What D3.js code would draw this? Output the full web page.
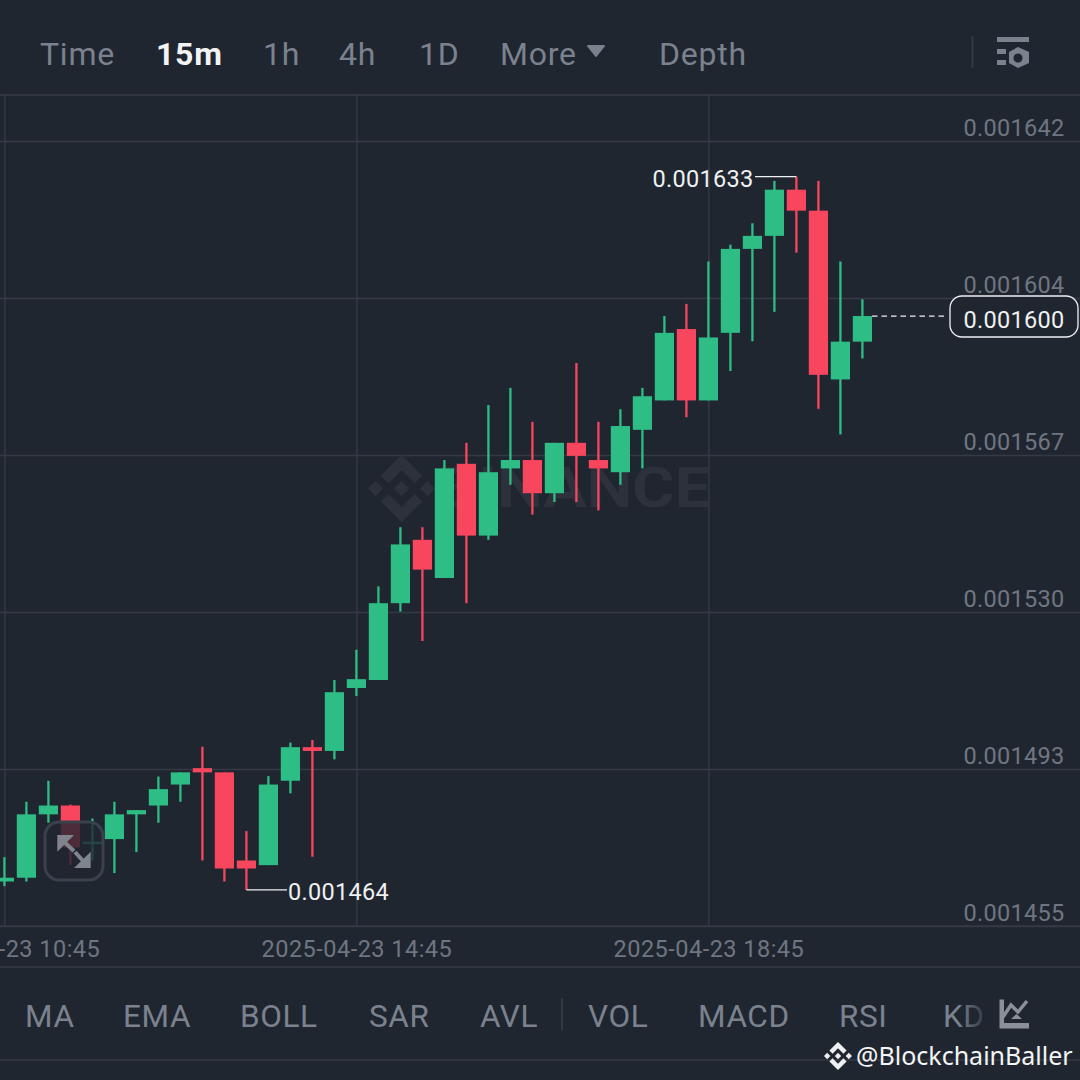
<!DOCTYPE html>
<html>
<head>
<meta charset="utf-8">
<script src="https://cdn.jsdelivr.net/npm/d3@7/dist/d3.min.js"></script>
<style>
html,body{margin:0;padding:0;background:#202630;overflow:hidden}
svg{display:block}
text{font-family:Roboto,"Noto Sans",sans-serif}
</style>
</head>
<body>
<svg id="c" width="1080" height="1080"></svg>
<script>
// Prices are in units of 0.000001
const opens  = [1465.6,1466.5,1481.6,1483.7,1474.5,1475.7,1481.6,1483.7,1488.7,1492.6,1491.6,1470.6,1469.5,1489.6,1497.6,1496.7,1511.7,1513.6,1531.9,1547.0,1537.9,1565.1,1548.0,1564.0,1566.0,1558.1,1570.1,1566.0,1563.1,1573.2,1580.2,1597.2,1580.2,1596.3,1616.3,1619.4,1630.4,1625.4,1585.2,1594.2];
const closes = [1466.5,1481.6,1483.7,1473.7,1475.1,1481.6,1482.6,1487.6,1491.6,1491.6,1468.7,1468.7,1488.7,1497.6,1496.7,1510.7,1513.8,1531.9,1545.9,1539.9,1564.0,1548.0,1563.1,1566.0,1558.1,1570.1,1567.0,1564.0,1574.1,1581.2,1596.3,1580.2,1595.2,1616.3,1619.4,1630.4,1625.4,1586.3,1594.2,1600.3];
const highs  = [1471.4,1484.6,1489.6,1483.9,1480.6,1484.6,1482.6,1490.6,1491.6,1497.7,1491.6,1477.6,1490.7,1498.7,1499.3,1513.6,1520.8,1535.9,1550.0,1550.0,1566.0,1570.1,1579.1,1583.2,1575.1,1570.1,1589.1,1575.1,1578.1,1583.2,1600.3,1603.2,1613.3,1617.3,1622.4,1632.5,1633.5,1632.5,1613.3,1604.3];
const lows   = [1464.5,1465.6,1479.6,1469.5,1470.6,1467.6,1472.6,1479.6,1484.6,1470.6,1465.6,1463.6,1469.5,1486.6,1471.5,1494.7,1509.8,1513.6,1529.9,1522.9,1537.9,1531.9,1547.0,1560.1,1553.0,1556.0,1556.0,1554.0,1560.1,1564.0,1580.2,1576.2,1580.2,1587.2,1594.3,1601.3,1615.4,1578.2,1572.1,1590.2];
const priceTicks  = [1642.0,1604.6,1567.2,1529.8,1492.4,1455.0];
const priceLabels = ["0.001642","0.001604","0.001567","0.001530","0.001493","0.001455"];
const timeTicks = [new Date(2025,3,23,10,45),new Date(2025,3,23,14,45),new Date(2025,3,23,18,45)];
const lastPrice = 1600.3, highPrice = 1633.5, lowPrice = 1463.6;
const highLabel = "0.001633", lowLabel = "0.001464", lastLabel = "0.001600";
const topTabs = ["Time","15m","1h","4h","1D","More","Depth"];
const topTabX = [40,156,263,339,419,500,659];
const bottomTabs = ["MA","EMA","BOLL","SAR","AVL","VOL","MACD","RSI","KD"];
const bottomTabX = [25,123,240,369,480,588,698,839,943];

const BG="#202630", GRID="#343a45", UP="#2ebd85", DOWN="#f9465f", MUTED="#7b828e", AXIS="#6f7681", WHITE="#eef0f2";
const LOGO="M38.73 53.2l24.59-24.58 24.6 24.6 14.3-14.31L63.32 0 24.43 38.9z M0 63.31l14.3-14.31 14.31 14.31-14.31 14.3z M38.73 73.41L63.32 98l24.6-24.6 14.31 14.29-38.9 38.91-38.91-38.88z M98 63.31l14.3-14.31 14.31 14.3-14.31 14.32z M77.83 63.3L63.32 48.78 52.59 59.51l-1.24 1.23-2.54 2.54 14.51 14.5 14.51-14.51z";

const svg=d3.select("#c");
const y=d3.scaleLinear().domain([1455,1642]).range([926,141]);
const x=d3.scaleTime().domain([timeTicks[0],timeTicks[2]]).range([4.4,708.4]);
const STEP=15*60*1000;
const candles=opens.map((o,i)=>({t:new Date(+timeTicks[0]+i*STEP),o,c:closes[i],h:highs[i],l:lows[i]}));

// frame lines
svg.selectAll("line.frame").data([95,926,967,1060]).join("line").attr("class","frame")
  .attr("x1",0).attr("x2",1080).attr("y1",d=>d).attr("y2",d=>d).attr("stroke",GRID).attr("stroke-width",1.5);

// price axis
const yAxis=d3.axisRight(y).tickValues(priceTicks).tickSize(1080).tickFormat((d,i)=>priceLabels[i]);
const gy=svg.append("g").call(yAxis);
gy.select(".domain").remove();
gy.selectAll("line").attr("stroke",GRID).attr("stroke-width",1.5);
gy.selectAll("text").attr("x",1064.5).attr("dy",-6).attr("text-anchor","end").attr("fill",AXIS).style("font-size","23.5px").style("letter-spacing","0.3px");

// time axis
const xAxis=d3.axisBottom(x).tickValues(timeTicks).tickSize(831).tickFormat(d3.timeFormat("%Y-%m-%d %H:%M"));
const gx=svg.append("g").attr("transform","translate(0,95)").call(xAxis);
gx.select(".domain").remove();
gx.selectAll("line").attr("stroke",GRID).attr("stroke-width",1.5);
gx.selectAll("text").attr("y",861.5).attr("dy",0).attr("text-anchor","middle").attr("fill",AXIS).style("font-size","23.5px").style("letter-spacing","0.48px");

// watermark
svg.append("path").attr("d",LOGO).attr("fill","#2c313c").attr("transform","translate(368,455) scale(0.53)");
svg.append("text").attr("x",437).attr("y",507).attr("textLength",274).attr("lengthAdjust","spacingAndGlyphs")
  .attr("fill","#2c313c").style("font-size","55px").style("font-weight",700).text("BINANCE");

// candles
const color=d=>d.c>=d.o?UP:DOWN;
const g=svg.append("g");
g.selectAll("line.wick").data(candles).join("line").attr("class","wick")
  .attr("x1",d=>x(d.t)).attr("x2",d=>x(d.t)).attr("y1",d=>y(d.h)).attr("y2",d=>y(d.l))
  .attr("stroke",color).attr("stroke-width",2.3);
g.selectAll("rect.body").data(candles).join("rect").attr("class","body")
  .attr("x",d=>x(d.t)-9.6).attr("width",19.2)
  .attr("y",d=>y(Math.max(d.o,d.c))).attr("height",d=>Math.abs(y(d.o)-y(d.c)))
  .attr("fill",color);

// high / low / last annotations
const hi=candles.find(d=>d.h===highPrice), lo=candles.find(d=>d.l===lowPrice), last=candles[candles.length-1];
svg.append("line").attr("x1",755).attr("x2",x(hi.t)).attr("y1",y(highPrice)).attr("y2",y(highPrice)).attr("stroke",WHITE).attr("stroke-width",1.2);
svg.append("text").attr("x",753.5).attr("y",y(highPrice)+10).attr("text-anchor","end").attr("fill",WHITE).style("font-size","23.5px").style("letter-spacing","0.3px").text(highLabel);
svg.append("line").attr("x1",x(lo.t)).attr("x2",287).attr("y1",y(lowPrice)).attr("y2",y(lowPrice)).attr("stroke",WHITE).attr("stroke-width",1.2);
svg.append("text").attr("x",288).attr("y",y(lowPrice)+10).attr("fill",WHITE).style("font-size","23.5px").style("letter-spacing","0.3px").text(lowLabel);
svg.append("line").attr("x1",x(last.t)+9.6).attr("x2",945).attr("y1",y(lastPrice)).attr("y2",y(lastPrice)).attr("stroke",WHITE).attr("stroke-width",1.2).attr("stroke-dasharray","5.5 4");
svg.append("rect").attr("x",950).attr("y",296).attr("width",128).attr("height",41).attr("rx",12).attr("fill",BG).attr("stroke",WHITE).attr("stroke-width",1.3);
svg.append("text").attr("x",1064.5).attr("y",328).attr("text-anchor","end").attr("fill",WHITE).style("font-size","23.5px").style("letter-spacing","0.3px").text(lastLabel);

// expand button
svg.append("rect").attr("x",45).attr("y",822).attr("width",58).attr("height",58).attr("rx",14).attr("fill",BG).attr("fill-opacity",0.8).attr("stroke","#3b414c").attr("stroke-width",3);
svg.append("path").attr("fill","#7f848e").attr("d","M57.3 835H74L57.3 851.7Z M90.7 868H74L90.7 851.7Z");
svg.append("path").attr("stroke","#7f848e").attr("stroke-width",4).attr("d","M63 841L74 851 M84 862L75 852");

// top tabs
svg.selectAll("text.top").data(topTabs).join("text").attr("class","top")
  .attr("x",(d,i)=>topTabX[i]).attr("y",65).attr("fill",d=>d==="15m"?"#f2f3f5":MUTED)
  .style("font-size","32px").style("font-weight",d=>d==="15m"?700:400).style("letter-spacing","0.75px").text(d=>d);
svg.append("path").attr("fill",MUTED).attr("stroke",MUTED).attr("stroke-width",2).attr("stroke-linejoin","round").attr("d","M588 46H604L596 56Z");
svg.append("line").attr("x1",972.5).attr("x2",972.5).attr("y1",36).attr("y2",68).attr("stroke",GRID).attr("stroke-width",2);
svg.append("path").attr("fill",MUTED).attr("fill-rule","evenodd")
  .attr("d","M997 37H1029V42H997Z M997 49H1006V54H997Z M997 60H1006V65H997Z M1018 47L1029 52V63L1018 68L1009 63V52Z M1018 53.5a4.5 4.5 0 1 0 .01 0Z");

// bottom tabs
svg.selectAll("text.bot").data(bottomTabs).join("text").attr("class","bot")
  .attr("x",(d,i)=>bottomTabX[i]).attr("y",1027).attr("fill",MUTED)
  .style("font-size","31.5px").style("letter-spacing","0.6px").text(d=>d);
svg.append("line").attr("x1",562).attr("x2",562).attr("y1",998).attr("y2",1030).attr("stroke",GRID).attr("stroke-width",2);
const defs=svg.append("defs");
const lg=defs.append("linearGradient").attr("id","fade");
lg.append("stop").attr("offset","0").attr("stop-color",BG).attr("stop-opacity",0);
lg.append("stop").attr("offset","1").attr("stop-color",BG).attr("stop-opacity",1);
svg.append("rect").attr("x",958).attr("y",995).attr("width",34).attr("height",40).attr("fill","url(#fade)");
svg.append("path").attr("fill","#8a8f99").attr("d","M999.5 999.5H1004V1023H1029V1028.5H999.5Z M1011 1019L1016.5 1014L1022 1019Z");
svg.append("path").attr("fill","none").attr("stroke","#8a8f99").attr("stroke-width",3.5).attr("d","M1003 1017L1011 1005L1018 1012L1027 1001");

// credit
svg.append("path").attr("d",LOGO).attr("fill",WHITE).attr("transform","translate(824,1042) scale(0.221)");
svg.append("text").attr("x",856).attr("y",1065).attr("fill","#f4f5f6").style("font-family","'Noto Sans',sans-serif").style("font-size","25px").text("@BlockchainBaller");
</script>
</body>
</html>
